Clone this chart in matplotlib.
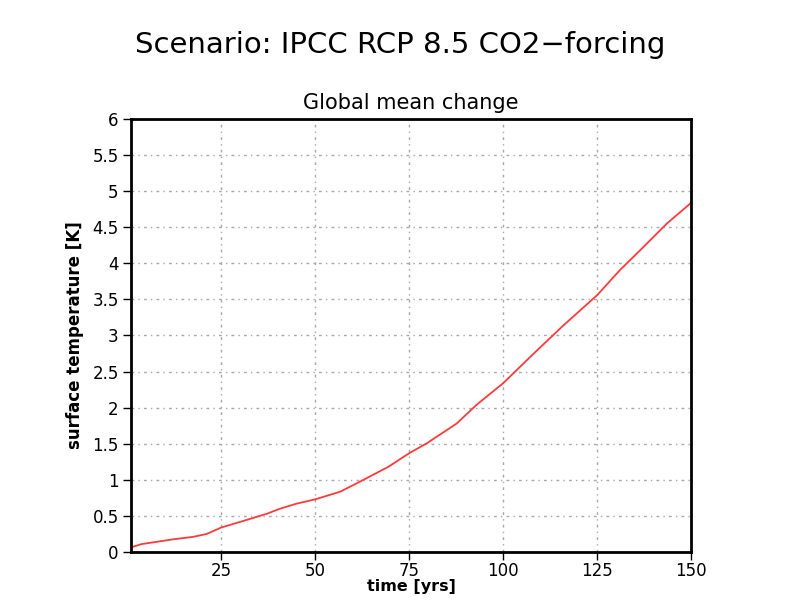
import numpy as np
import matplotlib
matplotlib.use("Agg")
import matplotlib.pyplot as plt

# values
years = [1, 3.8, 6.9, 12.2, 17.5, 21.1, 23.7, 25, 30.8, 37.1, 40.6, 45, 50,
         56.6, 62.8, 69.4, 75, 79.6, 87.6, 92.9, 100, 107.1, 116, 125,
         131.1, 136.4, 143.5, 150]
dtemp = [0.065, 0.11, 0.134, 0.176, 0.21, 0.25, 0.31, 0.34, 0.43, 0.53, 0.60,
         0.67, 0.73, 0.835, 1.0, 1.18, 1.37, 1.505, 1.78, 2.04, 2.34, 2.70,
         3.14, 3.56, 3.91, 4.18, 4.55, 4.84]
xticks = [25, 50, 75, 100, 125, 150]
yticks = [0, 0.5, 1, 1.5, 2, 2.5, 3, 3.5, 4, 4.5, 5, 5.5, 6]
ytick_labels = ["0", "0.5", "1", "1.5", "2", "2.5", "3", "3.5", "4", "4.5", "5", "5.5", "6"]

fig = plt.figure(figsize=(8, 6), dpi=100)
ax = fig.add_axes([0.164, 0.08, 0.7, 0.7217])

ax.plot(years, dtemp, color="#ff3a3a", linewidth=1.3)

ax.set_xlim(1, 150)
ax.set_ylim(0, 6)
ax.set_xticks(xticks)
ax.set_yticks(yticks)
ax.set_yticklabels(ytick_labels)
ax.tick_params(direction="out", length=6, width=1, labelsize=12, pad=3)
ax.tick_params(axis="x", pad=1)

# grads-like dotted grid
ax.grid(True, color="#a8a8a8", linestyle=(0, (2, 3, 1, 3)), linewidth=1)
for s in ax.spines.values():
    s.set_linewidth(2)

ax.set_title("Global mean change", fontsize=15, pad=7)
ax.set_xlabel("time [yrs]", fontsize=11.5, fontweight="bold")
ax.xaxis.set_label_coords(0.5, -0.062)
ax.set_ylabel("surface temperature [K]", fontsize=12, fontweight="bold", labelpad=6)
fig.text(0.5, 0.925, "Scenario: IPCC RCP 8.5 CO2\u2212forcing", ha="center",
         va="center", fontsize=21)

fig.savefig("out.png", dpi=100)
